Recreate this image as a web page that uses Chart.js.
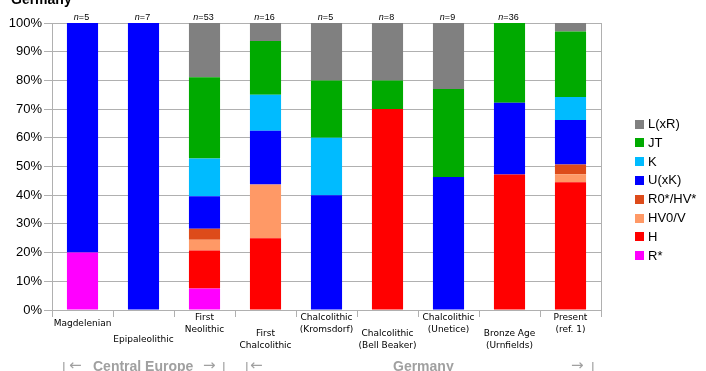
<!DOCTYPE html>
<html><head><meta charset="utf-8">
<script src="https://cdn.jsdelivr.net/npm/chart.js@4.4.1/dist/chart.umd.min.js"></script>
<style>html,body{margin:0;padding:0;background:#fff}#wrap{width:706px;height:371px;position:relative}</style>
</head><body><div id="wrap"><canvas id="c" width="706" height="371"></canvas></div>
<script>
const categories = [
  ["Magdelenian"], ["Epipaleolithic"], ["First", "Neolithic"], ["First", "Chalcolithic"],
  ["Chalcolithic", "(Kromsdorf)"], ["Chalcolithic", "(Bell Beaker)"], ["Chalcolithic", "(Unetice)"],
  ["Bronze Age", "(Urnfields)"], ["Present", "(ref. 1)"]
];
const sampleSizes = [5, 7, 53, 16, 5, 8, 9, 36, null];
const yTicks = [0, 10, 20, 30, 40, 50, 60, 70, 80, 90, 100];
const seriesNames = ["R*", "H", "HV0/V", "R0*/HV*", "U(xK)", "K", "JT", "L(xR)"];
const rStar  = [20, 0, 7.5, 0, 0, 0, 0, 0, 0];
const hap_H  = [0, 0, 13.2, 25, 0, 70, 0, 47.2, 44.5];
const hv0V   = [0, 0, 3.8, 18.75, 0, 0, 0, 0, 2.8];
const r0HV   = [0, 0, 3.8, 0, 0, 0, 0, 0, 3.4];
const uxK    = [80, 100, 11.3, 18.75, 40, 0, 46.3, 25, 15.5];
const hap_K  = [0, 0, 13.2, 12.5, 20, 0, 0, 0, 8];
const hap_JT = [0, 0, 28.3, 18.75, 20, 10, 30.7, 27.8, 22.8];
const lxR    = [0, 0, 18.9, 6.25, 20, 20, 23, 0, 3];
const regionText = [
  {parts: ["|", "←", "Central Europe", "→", "|"], xs: [62, 69, 93, 203, 222]},
  {parts: ["|", "←", "Germany", "→", "|"], xs: [245, 250, 393, 571, 591]}
];

const colors = ["#ff00ff", "#ff0000", "#ff9966", "#dd4b1a", "#0000ff", "#00bbff", "#00aa00", "#808080"];
const seriesData = [rStar, hap_H, hv0V, r0HV, uxK, hap_K, hap_JT, lxR];

const datasets = seriesNames.map((n, i) => ({
  label: n, data: seriesData[i], backgroundColor: colors[i], borderWidth: 0,
  barPercentage: 0.51, categoryPercentage: 1.0
}));

const GRID = "#b0b0b0";

const extras = {
  id: "extras",
  afterDraw(chart) {
    const ctx = chart.ctx, ca = chart.chartArea, xs = chart.scales.x;
    ctx.save();
    ctx.strokeStyle = GRID; ctx.lineWidth = 1;
    ctx.beginPath(); ctx.moveTo(Math.round(ca.right) + 0.5, ca.top); ctx.lineTo(Math.round(ca.right) + 0.5, ca.bottom + 7); ctx.stroke();
    ctx.fillStyle = "#000"; ctx.font = "bold 14px 'Liberation Sans', Arial, sans-serif";
    ctx.textAlign = "left"; ctx.textBaseline = "alphabetic";
    ctx.fillText("Germany", 11, 4);
    sampleSizes.forEach((n, i) => {
      if (n == null) return;
      const cx = xs.getPixelForValue(i);
      ctx.font = "italic 9px 'Liberation Sans', Arial, sans-serif";
      const w1 = ctx.measureText("n").width;
      ctx.font = "9px 'Liberation Sans', Arial, sans-serif";
      const rest = "=" + n;
      const w2 = ctx.measureText(rest).width;
      const x0 = cx - (w1 + w2) / 2 - 1;
      ctx.font = "italic 9px 'Liberation Sans', Arial, sans-serif";
      ctx.fillText("n", x0, ca.top - 3);
      ctx.font = "9px 'Liberation Sans', Arial, sans-serif";
      ctx.fillText(rest, x0 + w1, ca.top - 3);
    });
    ctx.font = "9px 'DejaVu Sans', sans-serif";
    ctx.textAlign = "center"; ctx.textBaseline = "middle";
    categories.forEach((lines, i) => {
      const cx = xs.getPixelForValue(i);
      const center = (i % 2 === 0) ? 324 : 340;
      const lh = 12;
      const start = center - (lines.length - 1) * lh / 2;
      lines.forEach((t, k) => ctx.fillText(t, cx, start + k * lh));
    });
    ctx.font = "13px 'Liberation Sans', Arial, sans-serif";
    ctx.textAlign = "left"; ctx.textBaseline = "middle";
    const ds = chart.data.datasets;
    for (let k = 0; k < ds.length; k++) {
      const d = ds[ds.length - 1 - k];
      const y = 124 + k * 18.8;
      ctx.fillStyle = d.backgroundColor;
      ctx.fillRect(635, Math.round(y - 4.5), 9, 9);
      ctx.fillStyle = "#000";
      ctx.fillText(d.label, 648, y + 0.5);
    }
    ctx.fillStyle = "#a0a0a0"; ctx.textBaseline = "alphabetic";
    regionText.forEach(r => {
      r.parts.forEach((p, k) => {
        if (k === 2) {
          ctx.font = "bold 14px 'Liberation Sans', Arial, sans-serif";
          ctx.fillText(p, r.xs[k], 371);
        } else if (k === 1 || k === 3) {
          ctx.font = "15px 'DejaVu Sans', sans-serif";
          ctx.fillText(p, r.xs[k], 370);
        } else {
          ctx.font = "14px 'Liberation Sans', Arial, sans-serif";
          ctx.fillText(p, r.xs[k], 373);
        }
      });
    });
    ctx.restore();
  }
};

new Chart(document.getElementById("c"), {
  type: "bar",
  data: { labels: categories.map(l => l.join(" ")), datasets },
  options: {
    responsive: false, animation: false, devicePixelRatio: 1,
    layout: { padding: { left: 0, right: 105, top: 23, bottom: 0 } },
    plugins: { legend: { display: false }, tooltip: { enabled: false }, title: { display: false } },
    scales: {
      x: {
        stacked: true,
        grid: { offset: true, drawOnChartArea: false, drawTicks: true, tickLength: 7, color: GRID },
        border: { display: true, color: GRID },
        ticks: { callback: () => "", display: true },
        afterFit(s) { s.height = 61; }
      },
      y: {
        stacked: true, min: 0, max: 100,
        afterBuildTicks(s) { s.ticks = yTicks.map(v => ({ value: v })); },
        grid: { color: GRID, tickLength: 8 },
        border: { display: true, color: GRID },
        ticks: { callback: v => v + "%", color: "#000", padding: 2,
                 font: { family: "'Liberation Sans', Arial, sans-serif", size: 13 } },
        afterFit(s) { s.width = 52; }
      }
    }
  },
  plugins: [extras]
});
</script>
</body></html>
